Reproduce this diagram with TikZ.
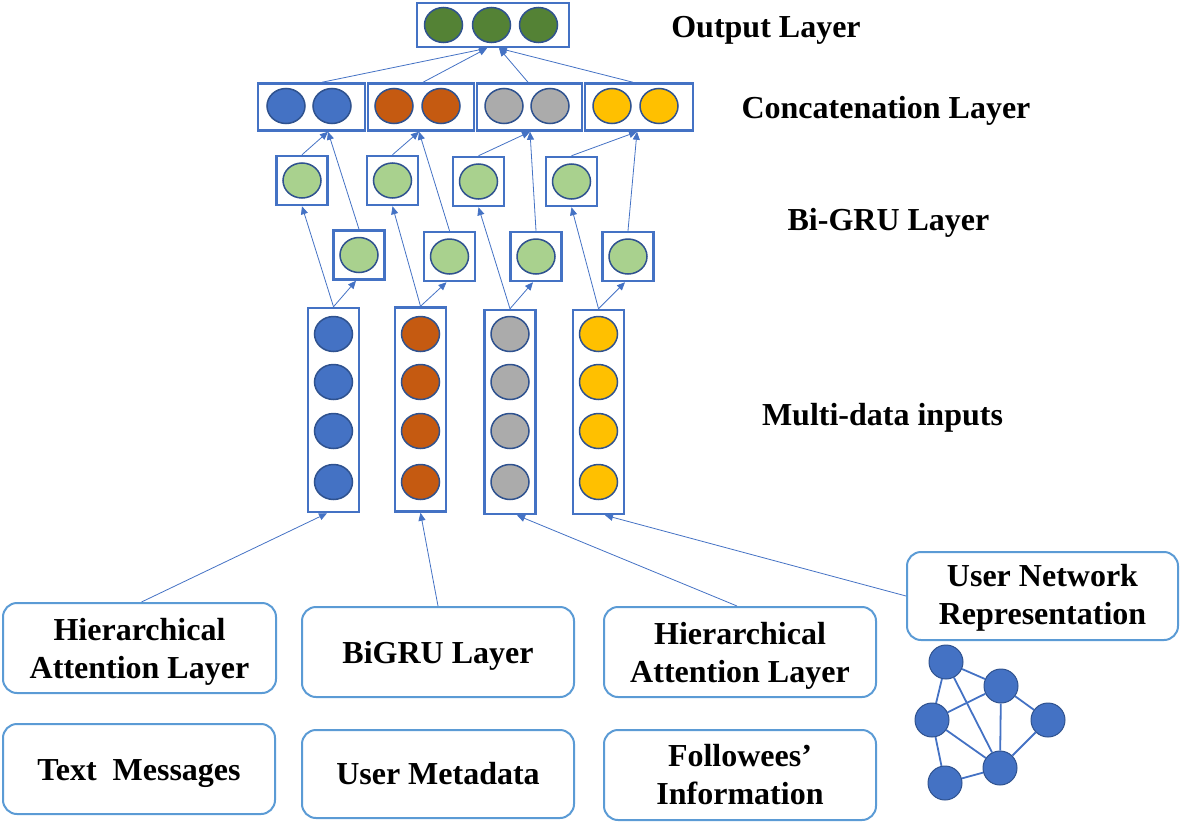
\documentclass[tikz,border=0pt]{standalone}
\usepackage{fontspec}
\setmainfont{Liberation Serif}
\usetikzlibrary{shapes.geometric,arrows.meta,calc}
\definecolor{boxblue}{HTML}{4472C4}
\definecolor{cblue}{HTML}{4472C4}
\definecolor{corange}{HTML}{C55A11}
\definecolor{cgray}{HTML}{ABABAB}
\definecolor{cyellow}{HTML}{FFC000}
\definecolor{cgreen}{HTML}{548235}
\definecolor{clgreen}{HTML}{A9D18E}
\definecolor{cedge}{HTML}{2F528F}
\definecolor{rbox}{HTML}{5B9BD5}
\newcommand\myStrutA{\rule{0pt}{30pt}}
\newcommand\myStrutB{\rule{0pt}{26pt}}
\begin{document}
\begin{tikzpicture}[x=1pt,y=-1pt,
 unit/.style={ellipse,draw=cedge,line width=1.5pt,minimum width=38pt,minimum height=35pt,inner sep=0pt},
 lay/.style={rectangle,draw=boxblue,line width=2.5pt,inner sep=0pt},
 arr/.style={draw=boxblue,line width=0.8pt,-{Triangle[width=7pt,length=8pt]}},
 rbx/.style={rectangle,rounded corners=14pt,draw=rbox,line width=2pt,align=center,font=\bfseries\fontsize{32}{38}\selectfont,inner sep=0pt},
 lbl/.style={font=\bfseries\fontsize{32}{38}\selectfont,anchor=base,inner sep=0pt},
 net/.style={circle,fill=cblue,draw=cedge,line width=1pt,minimum size=34pt,inner sep=0pt},
 nedge/.style={draw=cblue,line width=1.8pt}]
\useasboundingbox (0,0) rectangle (1181,822);

% Output layer
\node[lay,minimum width=152pt,minimum height=44pt] (out) at (493,25) {};
\node[unit,fill=cgreen] (o1) at (443.5,25) {};
\node[unit,fill=cgreen] (o2) at (491.5,25) {};
\node[unit,fill=cgreen] (o3) at (538.5,25) {};

% Concatenation layer
\node[lay,minimum width=107pt,minimum height=47pt] (cb1) at (311.5,107) {};
\node[lay,minimum width=106pt,minimum height=47pt] (cb2) at (421,107) {};
\node[lay,minimum width=105pt,minimum height=47pt] (cb3) at (529.5,107) {};
\node[lay,minimum width=108pt,minimum height=47pt] (cb4) at (639,107) {};
\node[unit,fill=cblue] (k1a) at (286,106) {};
\node[unit,fill=cblue] (k1b) at (332,106) {};
\node[unit,fill=corange] (k2a) at (394,106) {};
\node[unit,fill=corange] (k2b) at (441,106) {};
\node[unit,fill=cgray] (k3a) at (504,106) {};
\node[unit,fill=cgray] (k3b) at (550,106) {};
\node[unit,fill=cyellow] (k4a) at (612,106) {};
\node[unit,fill=cyellow] (k4b) at (659,106) {};

% Bi-GRU layer (upper and lower)
\foreach \n/\x/\y in {u1/302/180.5,u2/392.5/180.5,u3/478.5/181.5,u4/571.5/181.5,
                      l1/359/255,l2/449.5/256.5,l3/536/256.5,l4/628/256.5}{
  \node[lay,minimum width=51pt,minimum height=49pt] (\n) at (\x,\y) {};
  \node[unit,fill=clgreen] (\n c) at (\x,\y) {};
}

% Multi-data inputs
\foreach \n/\x/\y/\c in {m1/333.5/410/cblue,m2/420.5/409.5/corange,m3/510/412/cgray,m4/598.5/412/cyellow}{
  \node[lay,minimum width=51pt,minimum height=204pt] (\n) at (\x,\y) {};
  \node[unit,fill=\c] (\n a) at (\x,334) {};
  \node[unit,fill=\c] (\n b) at (\x,382) {};
  \node[unit,fill=\c] (\n c) at (\x,431) {};
  \node[unit,fill=\c] (\n d) at (\x,482) {};
}

% Labels
\node[lbl] (tout) at (766,37) {Output Layer};
\node[lbl] (tcat) at (886,118) {Concatenation Layer};
\node[lbl] (tgru) at (888.5,230) {Bi-GRU Layer};
\node[lbl] (tmul) at (882.5,425) {Multi-data inputs};

% Bottom boxes
\node[rbx,minimum width=273pt,minimum height=90pt] (hal1) at (139.5,648) {\myStrutA Hierarchical\\Attention Layer};
\node[rbx,minimum width=272pt,minimum height=90pt] (bg) at (438,652) {\myStrutA BiGRU Layer};
\node[rbx,minimum width=272pt,minimum height=90pt] (hal2) at (740,652) {\myStrutA Hierarchical\\Attention Layer};
\node[rbx,minimum width=271pt,minimum height=88pt] (unr) at (1042.5,596) {\myStrutB User Network\\Representation};
\node[rbx,minimum width=272pt,minimum height=90pt] (tm) at (139,769) {\myStrutA Text\ \ Messages};
\node[rbx,minimum width=272pt,minimum height=88pt] (um) at (438,774) {User Metadata};
\node[rbx,minimum width=272pt,minimum height=90pt] (fi) at (740,775) {Followees’\\Information};

% Network graph
\node[net] (na) at (946,662) {};
\node[net] (nb) at (1001,686) {};
\node[net] (nc) at (932,720) {};
\node[net] (nd) at (1048,720) {};
\node[net] (ne) at (1000,768) {};
\node[net] (nf) at (945,783) {};
\foreach \a/\b in {na/nb,na/nc,na/ne,nb/nc,nb/ne,nb/nd,nc/ne,nc/nf,nd/ne,ne/nf}
  \draw[nedge] (\a) -- (\b);

% Concatenation -> Output
\draw[arr] ([xshift=10.5pt]cb1.north) -- ([xshift=-6pt]out.south);
\draw[arr] ([xshift=2pt]cb2.north) -- ([xshift=-6pt]out.south);
\draw[arr] ([xshift=-1.5pt]cb3.north) -- ([xshift=6pt]out.south);
\draw[arr] ([xshift=-6pt]cb4.north) -- ([xshift=6pt]out.south);

% Bi-GRU -> Concatenation
\draw[arr] (u1.north) -- ([xshift=16.5pt]cb1.south);
\draw[arr] (l1.north) -- ([xshift=16.5pt]cb1.south);
\draw[arr] (u2.north) -- ([xshift=-2pt]cb2.south);
\draw[arr] (l2.north) -- ([xshift=-2pt]cb2.south);
\draw[arr] (u3.north) -- ([xshift=0.5pt]cb3.south);
\draw[arr] (l3.north) -- ([xshift=0.5pt]cb3.south);
\draw[arr] (u4.north) -- ([xshift=-2pt]cb4.south);
\draw[arr] (l4.north) -- ([xshift=-2pt]cb4.south);

% Multi-data -> Bi-GRU
\foreach \i in {1,2,3,4}{
  \draw[arr] (m\i.north) -- (u\i.south);
  \draw[arr] (m\i.north) -- ([xshift=-3pt]l\i.south);
}

% Bottom boxes -> Multi-data
\draw[arr] ([xshift=2pt]hal1.north) -- ([xshift=-6.5pt]m1.south);
\draw[arr] (bg.north) -- (m2.south);
\draw[arr] ([xshift=-3pt]hal2.north) -- ([xshift=7pt]m3.south);
\draw[arr] (unr.west) -- ([xshift=6.5pt]m4.south);
\end{tikzpicture}
\end{document}
